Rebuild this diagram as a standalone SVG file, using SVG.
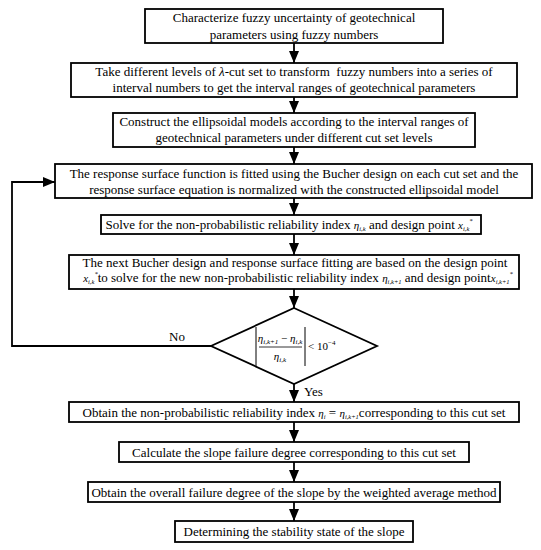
<svg xmlns="http://www.w3.org/2000/svg" width="541" height="550" viewBox="0 0 541 550">
<style>
.b{fill:#fff;stroke:#000;stroke-width:1.8}
.t{font-family:"Liberation Serif","Times New Roman",serif;font-size:13px;fill:#000}
.c{text-anchor:middle}
.m{font-style:italic;font-size:11px}
.s{font-style:italic;font-size:6.5px}
.e{fill:none;stroke:#000;stroke-width:1.8}
.f{font-family:"Liberation Serif","Times New Roman",serif;fill:#000}
</style>
<defs>
<marker id="ah" viewBox="0 0 12 10" refX="12" refY="5" markerWidth="12" markerHeight="10" markerUnits="userSpaceOnUse" orient="auto">
<path d="M0,0 L12,5 L0,10 z" fill="#000"/>
</marker>
</defs>
<rect width="541" height="550" fill="#fff"/>
<g id="connectors">
<line class="e" x1="294" y1="43" x2="294" y2="63" marker-end="url(#ah)"/>
<line class="e" x1="294" y1="97" x2="294" y2="113" marker-end="url(#ah)"/>
<line class="e" x1="294" y1="147" x2="294" y2="164" marker-end="url(#ah)"/>
<line class="e" x1="294" y1="198" x2="294" y2="215" marker-end="url(#ah)"/>
<line class="e" x1="294" y1="234" x2="294" y2="255" marker-end="url(#ah)"/>
<line class="e" x1="294" y1="289" x2="294" y2="308" marker-end="url(#ah)"/>
<line class="e" x1="294" y1="384" x2="294" y2="402" marker-end="url(#ah)"/>
<line class="e" x1="294" y1="422" x2="294" y2="442" marker-end="url(#ah)"/>
<line class="e" x1="294" y1="462" x2="294" y2="482" marker-end="url(#ah)"/>
<line class="e" x1="294" y1="502" x2="294" y2="521" marker-end="url(#ah)"/>
<polyline class="e" points="211,346 12,346 12,182 55,182" marker-end="url(#ah)"/>
<text class="t" x="169" y="341">No</text>
<text class="t" x="304" y="396">Yes</text>
</g>
<g id="n1">
<rect class="b" x="145" y="9" width="298" height="34"/>
<text class="t c" x="294" y="22">Characterize fuzzy uncertainty of geotechnical</text>
<text class="t c" x="294" y="38.5">parameters using fuzzy numbers</text>
</g>
<g id="n2">
<rect class="b" x="71" y="63" width="446" height="34"/>
<text class="t c" x="294" y="75.5" xml:space="preserve">Take different levels of <tspan font-style="italic">λ</tspan>-cut set to transform  fuzzy numbers into a series of</text>
<text class="t c" x="294" y="92">interval numbers to get the interval ranges of geotechnical parameters</text>
</g>
<g id="n3">
<rect class="b" x="113" y="113" width="362" height="34"/>
<text class="t c" x="294" y="126">Construct the ellipsoidal models according to the interval ranges of</text>
<text class="t c" x="294" y="142">geotechnical parameters under different cut set levels</text>
</g>
<g id="n4">
<rect class="b" x="55" y="164" width="477" height="34"/>
<text class="t c" x="294" y="177.5">The response surface function is fitted using the Bucher design on each cut set and the</text>
<text class="t c" x="294" y="194">response surface equation is normalized with the constructed ellipsoidal model</text>
</g>
<g id="n5">
<rect class="b" x="101" y="215" width="380" height="19"/>
<text class="t c" x="289" y="229">Solve for the non-probabilistic reliability index <tspan class="m">η</tspan><tspan class="s" dy="2">i,k</tspan><tspan dy="-2"> and design point </tspan><tspan class="m">x</tspan><tspan class="s" dy="2">i,k</tspan><tspan class="s" dy="-8">*</tspan></text>
</g>
<g id="n6">
<rect class="b" x="69" y="255" width="450" height="34"/>
<text class="t c" x="295" y="266.5">The next Bucher design and response surface fitting are based on the design point</text>
<text class="t c" x="298" y="282"><tspan class="m">x</tspan><tspan class="s" dy="2">i,k</tspan><tspan class="s" dy="-8">*</tspan><tspan dy="6">to solve for the new non-probabilistic reliability index </tspan><tspan class="m">η</tspan><tspan class="s" dy="2">i,k+1</tspan><tspan dy="-2"> and design point</tspan><tspan class="m">x</tspan><tspan class="s" dy="2">i,k+1</tspan><tspan class="s" dy="-8">*</tspan></text>
</g>
<g id="n7">
<path class="b" d="M294,308 L377,346 L294,384 L211,346 Z"/>
<line x1="256" y1="327" x2="256" y2="366" stroke="#000" stroke-width="1"/>
<line x1="305" y1="327" x2="305" y2="366" stroke="#000" stroke-width="1"/>
<line x1="259" y1="347" x2="302" y2="347" stroke="#000" stroke-width="0.8"/>
<text class="f c" x="280" y="342" font-size="11"><tspan font-style="italic">η</tspan><tspan font-style="italic" font-size="7" dy="2">i,k+1</tspan><tspan dy="-2"> − </tspan><tspan font-style="italic">η</tspan><tspan font-style="italic" font-size="7" dy="2">i,k</tspan></text>
<text class="f c" x="280" y="360" font-size="11"><tspan font-style="italic">η</tspan><tspan font-style="italic" font-size="7" dy="2">i,k</tspan></text>
<text class="f" x="308" y="350" font-size="11">&lt; 10<tspan font-size="7" dy="-5">−4</tspan></text>
</g>
<g id="n8">
<rect class="b" x="69" y="402" width="450" height="20"/>
<text class="t c" x="294" y="416.5">Obtain the non-probabilistic reliability index <tspan class="m">η</tspan><tspan class="s" dy="2">i</tspan><tspan dy="-2"> = </tspan><tspan class="m">η</tspan><tspan class="s" dy="2">i,k+1</tspan><tspan dy="-2">corresponding to this cut set</tspan></text>
</g>
<g id="n9">
<rect class="b" x="119" y="442" width="350" height="20"/>
<text class="t c" x="294" y="456.5">Calculate the slope failure degree corresponding to this cut set</text>
</g>
<g id="n10">
<rect class="b" x="88" y="482" width="412" height="20"/>
<text class="t c" x="294" y="496.5">Obtain the overall failure degree of the slope by the weighted average method</text>
</g>
<g id="n11">
<rect class="b" x="175" y="521" width="238" height="21"/>
<text class="t c" x="294" y="535.5">Determining the stability state of the slope</text>
</g>
</svg>
